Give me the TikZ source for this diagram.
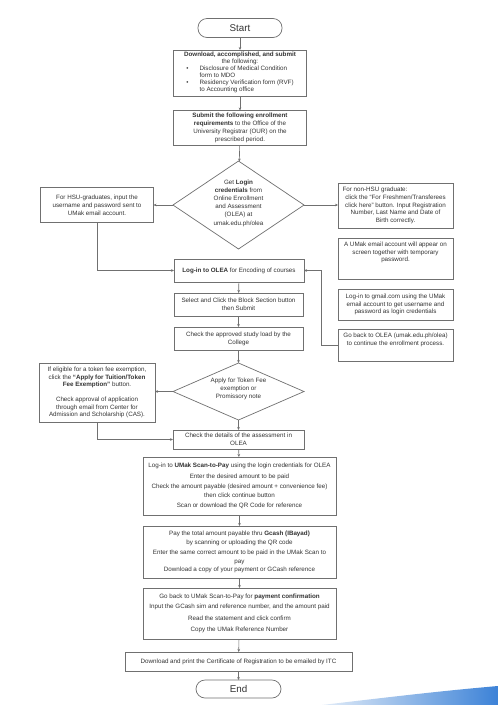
\documentclass[tikz,border=0pt]{standalone}
\usepackage{fontspec}
\setmainfont{Liberation Sans}
\usetikzlibrary{arrows.meta,shapes.geometric}
\definecolor{ln}{HTML}{707070}
\definecolor{tx}{HTML}{333333}
\definecolor{swA}{HTML}{E2ECF8}
\definecolor{swB}{HTML}{3C82D7}
\newcommand{\fsz}{\fontsize{6.25}{8.2}\selectfont}
\begin{document}
\begin{tikzpicture}[x=1pt,y=-1pt,
 bx/.style={draw=ln, line width=0.7pt, fill=white, text=tx, font=\fsz, align=center, inner sep=0pt, outer sep=0pt},
 term/.style={draw=ln, line width=0.7pt, rounded corners=9pt, text=tx, font=\fontsize{9.8}{11}\selectfont, inner sep=0pt, outer sep=0pt},
 dia/.style={draw=ln, line width=0.7pt, diamond, inner sep=0pt, outer sep=0pt},
 tt/.style={text=tx, font=\fsz, align=center, inner sep=0pt},
 ar/.style={draw=ln, line width=0.6pt, -{Stealth[length=3pt,width=2.6pt]}},
]
\useasboundingbox (0,0) rectangle (498,705);
\fill[white] (0,0) rectangle (498,705);

% terminals
\node[term, minimum width=84pt, minimum height=19pt] (start) at (240,28) {Start};
\node[term, minimum width=85pt, minimum height=18pt] (end) at (238.5,689) {End};

% main column
\node[bx, minimum width=133pt, minimum height=46pt, font=\fontsize{6.25}{7}\selectfont] (b1) at (240,73)
 {\textbf{Download, accomplished, and submit}\\ the following:\\
 \begin{tabular}{@{}l@{\hspace{11pt}}l@{}}
 •&Disclosure of Medical Condition\\ &form to MDO\\ •&Residency Verification form (RVF)\\ &to Accounting office
 \end{tabular}};
\node[bx, minimum width=133pt, minimum height=35pt] (b2) at (240,128)
 {\textbf{Submit the following enrollment}\\ \textbf{requirements} to the Office of the\\ University Registrar (OUR) on the\\ prescribed period.};
\node[dia, minimum width=131pt, minimum height=88pt] (d1) at (238.5,205) {};
\node[tt] (d1t) at (238.5,203)
 {Get \textbf{Login}\\ \textbf{credentials} from\\ Online Enrollment\\ and Assessment\\ (OLEA) at\\ umak.edu.ph/olea};
\node[bx, minimum width=130pt, minimum height=23pt] (login) at (239,270.5)
 {\textbf{Log-in to OLEA} for Encoding of courses};
\node[bx, minimum width=129pt, minimum height=23pt] (select) at (238.5,304.5)
 {Select and Click the Block Section button\\ then Submit};
\node[bx, minimum width=129pt, minimum height=23pt] (approved) at (238.5,338.5)
 {Check the approved study load by the\\ College};
\node[dia, minimum width=131pt, minimum height=57pt] (d2) at (238.5,391.5) {};
\node[tt] (d2t) at (238.5,389) {Apply for Token Fee\\ exemption or\\ Promissory note};
\node[bx, minimum width=131pt, minimum height=19pt] (details) at (238.5,439.5)
 {Check the details of the assessment in\\ OLEA};
\node[bx, minimum width=193pt, minimum height=58pt, font=\fontsize{6.25}{8.4}\selectfont] (scan) at (239.5,486)
 {Log-in to \textbf{UMak Scan-to-Pay} using the login credentials for OLEA\\[2.2pt]
  Enter the desired amount to be paid\\[2.2pt]
  Check the amount payable (desired amount + convenience fee)\\ then click continue button\\[2.2pt]
  Scan or download the QR Code for reference};
\node[bx, minimum width=193pt, minimum height=52pt, font=\fontsize{6.25}{8.4}\selectfont] (gcash) at (239.5,552)
 {Pay the total amount payable thru \textbf{Gcash (IBayad)}\\ by scanning or uploading the QR code\\[2pt]
  Enter the same correct amount to be paid in the UMak Scan to\\ pay\\
  Download a copy of your payment or GCash reference};
\node[bx, minimum width=193pt, minimum height=51pt, font=\fontsize{6.25}{8.4}\selectfont] (goback2) at (239.5,613.5)
 {Go back to UMak Scan-to-Pay for \textbf{payment confirmation}\\[2pt]
  Input the GCash sim and reference number, and the amount paid\\[3pt]
  Read the statement and click confirm\\[3pt]
  Copy the UMak Reference Number};
\node[bx, minimum width=227pt, minimum height=19pt] (download) at (238.5,661.5)
 {Download and print the Certificate of Registration to be emailed by ITC};

% left side
\node[bx, minimum width=113pt, minimum height=35pt] (hsu) at (97,205)
 {For HSU-graduates, input the\\ username and password sent to\\ UMak email account.};
\node[bx, minimum width=116pt, minimum height=59pt, font=\fontsize{6.25}{7.5}\selectfont] (token) at (97,392.5)
 {If eligible for a token fee exemption,\\ click the \textbf{“Apply for Tuition/Token}\\ \textbf{Fee Exemption”} button.\\[7.5pt]
  Check approval of application\\ through email from Center for\\ Admission and Scholarship (CAS).};

% right side
\node[bx, minimum width=115pt, minimum height=45pt, font=\fontsize{6.25}{7.6}\selectfont] (nonhsu) at (395.5,205.5)
 {\makebox[106pt][l]{For non-HSU graduate:}\\ click the  “For Freshmen/Transferees\\ click here” button. Input Registration\\ Number, Last Name and Date of\\ Birth correctly.};
\node[bx, minimum width=115pt, minimum height=41pt] (umak) at (395.5,258.5) {};
\node[tt, anchor=north, font=\fontsize{6.25}{7.6}\selectfont] (umakt) at (395.5,242)
 {A UMak email account will appear on\\ screen together with  temporary\\ password.};
\node[bx, minimum width=115pt, minimum height=31pt, font=\fontsize{6.25}{7.6}\selectfont] (gmail) at (395.5,304.5)
 {Log-in to gmail.com using the UMak\\ email account to get username and\\ password as login credentials};
\node[bx, minimum width=115pt, minimum height=32pt] (goback1) at (395.5,345)
 {Go back to OLEA (umak.edu.ph/olea)\\ to continue the enrollment process.\\[4pt]};

% connectors
\draw[ar] (start) -- (b1);
\draw[ar] (b1) -- (b2);
\draw[ar] (b2) -- (d1);
\draw[ar] (d1.west) -- (d1.west -| hsu.east);
\draw[ar] (d1.east) -- (d1.east -| nonhsu.west);
\draw[ar] (hsu.south) |- (login.west);
\coordinate (gbx) at (321,345);
\draw[ar] (goback1.west) -- (gbx) |- (login.east);
\draw[ar] (login) -- (select);
\draw[ar] (select) -- (approved);
\draw[ar] (approved) -- (d2);
\draw[ar] (d2.west) -- (d2.west -| token.east);
\draw[ar] (token.south) |- (details.west);
\draw[ar] (d2.south) -- (details.north);
\draw[ar] (details) -- (scan);
\draw[ar] (scan) -- (gcash);
\draw[ar] (gcash) -- (goback2);
\draw[ar] (goback2) -- (download);
\draw[ar] (download) -- (end);

% decorative swoosh
\shade[left color=swA, right color=swB] (322,705) .. controls (390,697) and (440,691) .. (498,686) -- (498,705) -- cycle;
\end{tikzpicture}
\end{document}
